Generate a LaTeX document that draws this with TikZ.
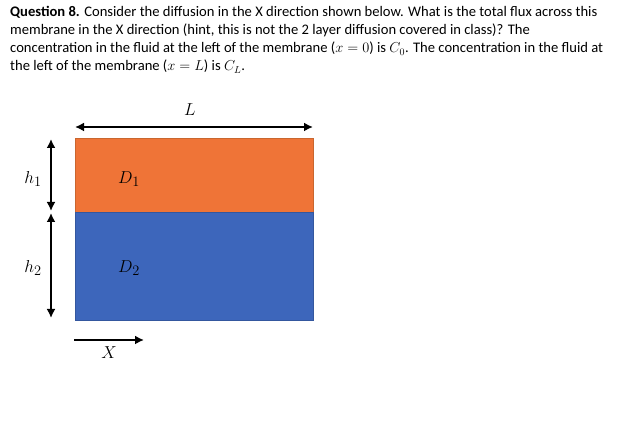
\documentclass[tikz,border=0pt]{standalone}
\usepackage{fontspec}
\setmainfont{Carlito}
\usetikzlibrary{arrows.meta}
\definecolor{layerA}{HTML}{EF7437}
\definecolor{layerAedge}{HTML}{C9662F}
\definecolor{layerB}{HTML}{3D66BB}
\definecolor{layerBedge}{HTML}{34579E}
\tikzset{
  txt/.style={anchor=base west, inner sep=0pt, font=\fontsize{14.6}{17}\selectfont},
  lbl/.style={inner sep=0pt, font=\fontsize{19}{22}\selectfont},
  dim/.style={line width=2.6pt, {Latex[length=9pt,width=9pt]}-{Latex[length=9pt,width=9pt]}},
  dir/.style={line width=2.6pt, -{Latex[length=9pt,width=9pt]}},
}
\begin{document}
\begin{tikzpicture}[x=1pt,y=1pt]
\useasboundingbox (0,0) rectangle (637,425);
% text
\node[txt] (t1) at (10,408) {\textbf{Question 8.} Consider the diffusion in the X direction shown below. What is the total flux across this};
\node[txt] (t2) at (10,390) {membrane in the X direction (hint, this is not the 2 layer diffusion covered in class)? The};
\node[txt] (t3) at (10,372) {concentration in the fluid at the left of the membrane ($x=0$) is $C_0$. The concentration in the fluid at};
\node[txt] (t4) at (10,354) {the left of the membrane ($x=L$) is $C_L$.};
% layers
\draw[fill=layerA, draw=layerAedge, line width=0.6pt] (75,213) rectangle (313,287);
\draw[fill=layerB, draw=layerBedge, line width=0.6pt] (75,105) rectangle (313,213);
\node[lbl] (d1) at (129,246) {$D_1$};
\node[lbl] (d2) at (129,157) {$D_2$};
% dimension arrows
\coordinate (la) at (75,298);
\coordinate (lb) at (313,298);
\draw[dim] (la) -- (lb);
\node[lbl] (L) at (190,315) {$L$};
\coordinate (h1a) at (51,286);
\coordinate (h1b) at (51,214);
\draw[dim] (h1a) -- (h1b);
\coordinate (h2a) at (51,212);
\coordinate (h2b) at (51,107);
\draw[dim] (h2a) -- (h2b);
\node[lbl] (h1) at (33,246) {$h_1$};
\node[lbl] (h2) at (33,157) {$h_2$};
\coordinate (xa) at (74,85);
\coordinate (xb) at (144,85);
\draw[dir] (xa) -- (xb);
\node[lbl] (X) at (109,72) {$X$};
\end{tikzpicture}
\end{document}
